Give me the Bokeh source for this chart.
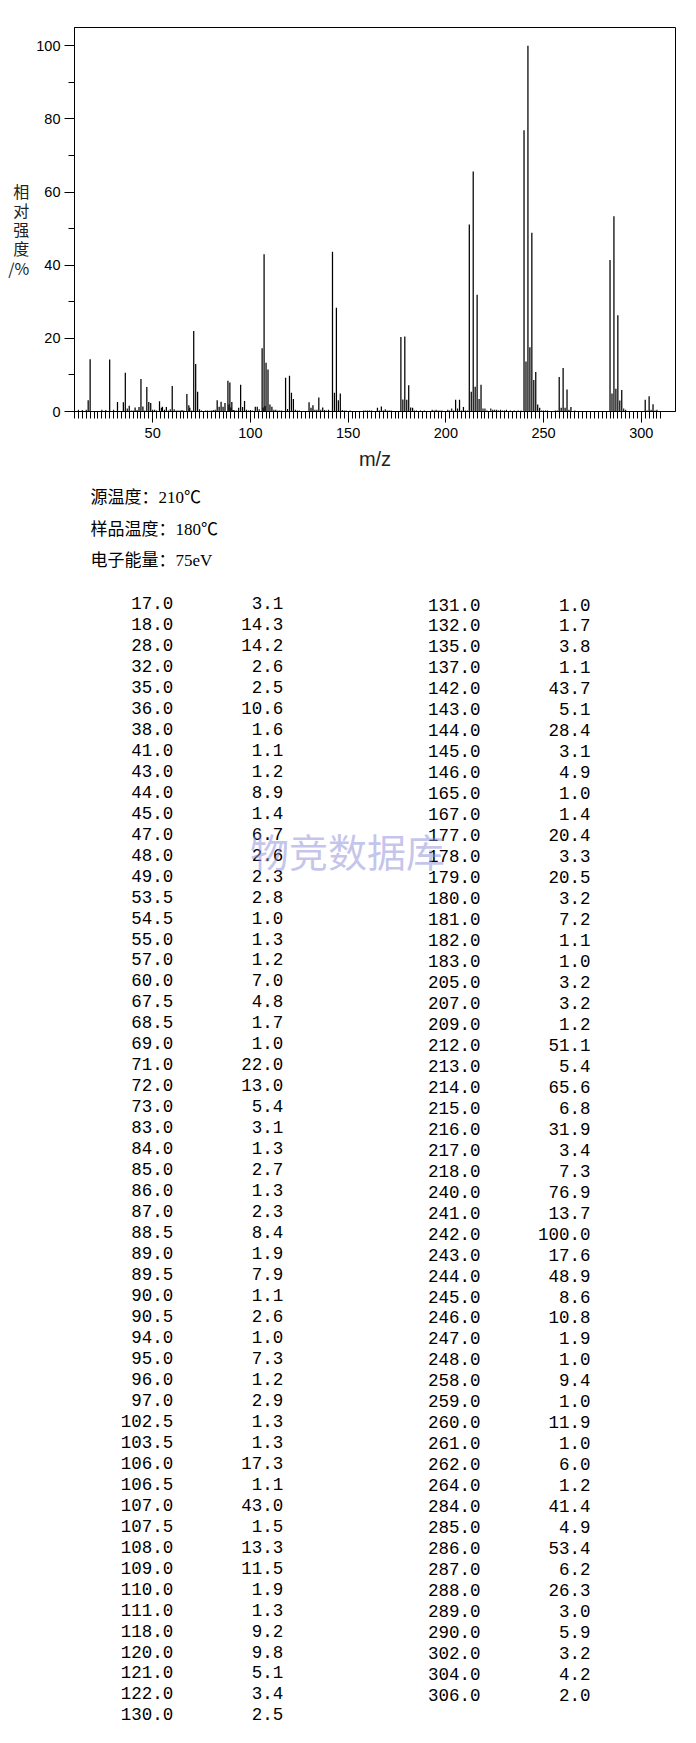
from bokeh.plotting import figure
from bokeh.models import Range1d, FixedTicker, ColumnDataSource
from bokeh.layouts import column
from bokeh.embed import file_html
from bokeh.resources import INLINE
from bokeh.core.properties import value

# ---------------- data ----------------
# listed peaks (m/z, relative intensity %)
mz_listed = [17.0, 18.0, 28.0, 32.0, 35.0, 36.0, 38.0, 41.0, 43.0, 44.0, 45.0, 47.0,
             48.0, 49.0, 53.5, 54.5, 55.0, 57.0, 60.0, 67.5, 68.5, 69.0, 71.0, 72.0,
             73.0, 83.0, 84.0, 85.0, 86.0, 87.0, 88.5, 89.0, 89.5, 90.0, 90.5, 94.0,
             95.0, 96.0, 97.0, 102.5, 103.5, 106.0, 106.5, 107.0, 107.5, 108.0, 109.0,
             110.0, 111.0, 118.0, 120.0, 121.0, 122.0, 130.0,
             131.0, 132.0, 135.0, 137.0, 142.0, 143.0, 144.0, 145.0, 146.0, 165.0,
             167.0, 177.0, 178.0, 179.0, 180.0, 181.0, 182.0, 183.0, 205.0, 207.0,
             209.0, 212.0, 213.0, 214.0, 215.0, 216.0, 217.0, 218.0, 240.0, 241.0,
             242.0, 243.0, 244.0, 245.0, 246.0, 247.0, 248.0, 258.0, 259.0, 260.0,
             261.0, 262.0, 264.0, 284.0, 285.0, 286.0, 287.0, 288.0, 289.0, 290.0,
             302.0, 304.0, 306.0]
int_listed = [3.1, 14.3, 14.2, 2.6, 2.5, 10.6, 1.6, 1.1, 1.2, 8.9, 1.4, 6.7,
              2.6, 2.3, 2.8, 1.0, 1.3, 1.2, 7.0, 4.8, 1.7, 1.0, 22.0, 13.0,
              5.4, 3.1, 1.3, 2.7, 1.3, 2.3, 8.4, 1.9, 7.9, 1.1, 2.6, 1.0,
              7.3, 1.2, 2.9, 1.3, 1.3, 17.3, 1.1, 43.0, 1.5, 13.3, 11.5,
              1.9, 1.3, 9.2, 9.8, 5.1, 3.4, 2.5,
              1.0, 1.7, 3.8, 1.1, 43.7, 5.1, 28.4, 3.1, 4.9, 1.0,
              1.4, 20.4, 3.3, 20.5, 3.2, 7.2, 1.1, 1.0, 3.2, 3.2,
              1.2, 51.1, 5.4, 65.6, 6.8, 31.9, 3.4, 7.3, 76.9, 13.7,
              100.0, 17.6, 48.9, 8.6, 10.8, 1.9, 1.0, 9.4, 1.0, 11.9,
              1.0, 6.0, 1.2, 41.4, 4.9, 53.4, 6.2, 26.3, 3.0, 5.9,
              3.2, 4.2, 2.0]

# small unlisted peaks (< 1 %)
mz_small = [12, 14, 16, 24, 26, 30, 37, 39, 40, 42, 46, 50, 51, 52, 56, 58, 59, 61,
            62, 63, 64, 65, 66, 70, 74, 75, 77, 78, 79, 80, 81, 82, 91, 91.5, 92, 93,
            98, 99, 100, 101, 104.5, 112, 113, 114, 115, 116, 119, 123, 124, 125,
            133, 134, 136, 138, 139, 140, 147, 148, 149, 151, 158, 159, 160, 161,
            162, 166, 168, 169, 170, 171, 172, 184, 185, 187, 189, 193, 194, 195,
            196, 197, 198, 201, 202, 203, 204, 206, 208, 210, 211, 219, 220, 221,
            223, 224, 225, 226, 227, 228, 229, 230, 231, 233, 235, 237, 238.5, 249,
            250, 251, 252, 256, 257, 263, 266, 291, 292, 303, 305, 307, 308]
int_small = [0.5, 0.4, 0.5, 0.5, 0.4, 0.5, 0.8, 0.3, 0.3, 0.4, 0.3, 0.5, 0.5, 0.3, 0.5, 0.3, 0.6, 0.6,
             0.3, 0.3, 0.3, 0.4, 0.3, 0.3, 0.6, 0.3, 0.3, 0.3, 0.2, 0.3, 0.4, 0.5, 0.4, 0.4, 0.3, 0.3,
             0.5, 0.3, 0.4, 0.3, 0.6, 0.5, 0.5, 0.3, 0.3, 0.3, 0.7, 0.5, 0.3, 0.3,
             0.5, 0.5, 0.5, 0.4, 0.3, 0.5, 0.4, 0.3, 0.3, 0.3, 0.3, 0.3, 0.3, 0.3,
             0.3, 0.3, 0.3, 0.6, 0.3, 0.3, 0.3, 0.3, 0.3, 0.3, 0.3, 0.5, 0.3, 0.5,
             0.3, 0.3, 0.3, 0.5, 0.3, 0.8, 0.3, 0.8, 0.3, 0.3, 0.3, 0.8, 0.8, 0.3,
             0.8, 0.5, 0.5, 0.5, 0.3, 0.5, 0.3, 0.3, 0.5, 0.3, 0.3, 0.3, 0.3, 0.3,
             0.3, 0.3, 0.3, 0.3, 0.3, 0.5, 0.3, 0.8, 0.5, 0.3, 0.5, 0.3, 0.5]

x_major_ticks = [50, 100, 150, 200, 250, 300]
x_minor_ticks = list(range(10, 311, 2))
y_major_ticks = [0, 20, 40, 60, 80, 100]
y_minor_ticks = [10, 30, 50, 70, 90]

y_label = "\n相\n对\n强\n度\n/%"
x_label = "m/z"
info_lines = ["源温度：210℃", "样品温度：180℃", "电子能量：75eV"]
watermark = "物竞数据库"
rows_left = 54

# ---------------- layout constants (page pixels) ----------------
W = 690
FRAME_L, FRAME_R, FRAME_T, FRAME_B = 74, 675, 27, 411
H1 = 478

# ---------------- spectrum ----------------
p = figure(width=W, height=H1, x_range=Range1d(10, 317.5), y_range=Range1d(0, 105),
           output_backend="svg", toolbar_location=None, title=None,
           min_border_left=FRAME_L, min_border_right=W - FRAME_R,
           min_border_top=FRAME_T, min_border_bottom=H1 - FRAME_B)
p.grid.visible = False
p.outline_line_color = "black"
p.outline_line_width = 1
p.outline_line_alpha = 1
p.background_fill_color = "white"
p.border_fill_color = "white"

src_l = ColumnDataSource(dict(mz=mz_listed, y=int_listed))
src_s = ColumnDataSource(dict(mz=mz_small, y=int_small))
p.segment(x0="mz", y0=0, x1="mz", y1="y", source=src_s, line_color="black", line_width=1.1)
p.segment(x0="mz", y0=0, x1="mz", y1="y", source=src_l, line_color="black", line_width=1.25)

ax = p.xaxis[0]
ax.ticker = FixedTicker(ticks=x_major_ticks, minor_ticks=x_minor_ticks)
ax.major_tick_in = 0
ax.major_tick_out = 11
ax.minor_tick_in = 0
ax.minor_tick_out = 7
ax.major_label_standoff = 5
ax.major_label_text_font = "Liberation Sans"
ax.major_label_text_font_size = "14.5px"
ax.major_label_text_color = "black"
ax.axis_line_color = "black"
ax.major_tick_line_color = "black"
ax.minor_tick_line_color = "black"
ax.axis_label = x_label
ax.axis_label_text_font = "Liberation Sans"
ax.axis_label_text_font_style = "normal"
ax.axis_label_text_font_size = "20px"
ax.axis_label_text_color = "#222222"
ax.axis_label_standoff = 7

ay = p.yaxis[0]
ay.ticker = FixedTicker(ticks=y_major_ticks, minor_ticks=y_minor_ticks)
ay.major_tick_in = 0
ay.major_tick_out = 10
ay.minor_tick_in = 0
ay.minor_tick_out = 6
ay.major_label_standoff = 4
ay.major_label_text_font = "Liberation Sans"
ay.major_label_text_font_size = "14.5px"
ay.major_label_text_color = "black"
ay.axis_line_color = "black"
ay.major_tick_line_color = "black"
ay.minor_tick_line_color = "black"
ay.axis_label = y_label
ay.axis_label_orientation = "horizontal"
ay.axis_label_text_font = "Noto Sans CJK SC"
ay.axis_label_text_font_style = "normal"
ay.axis_label_text_font_size = "16px"
ay.axis_label_text_line_height = 0.8
ay.axis_label_text_color = "#222222"
ay.axis_label_standoff = 4

# ---------------- info + table ----------------
H2 = 1262
t = figure(width=W, height=H2, x_range=Range1d(FRAME_L, FRAME_R), y_range=Range1d(H1 + H2, H1),
           output_backend="svg", toolbar_location=None, title=None,
           x_axis_type=None, y_axis_type=None,
           min_border_left=FRAME_L, min_border_right=W - FRAME_R,
           min_border_top=0, min_border_bottom=0)
t.grid.visible = False
t.outline_line_color = None
t.background_fill_color = "white"
t.border_fill_color = "white"

info_y = [497, 529, 560]
t.text(x=[90] * len(info_lines), y=info_y, text=info_lines, text_align="left",
       text_baseline="middle", text_font=value("Liberation Serif, Noto Sans CJK SC"),
       text_font_size=value("17px"), text_color="black")

row_h = 20.97
mz_txt = [f"{v:.1f}" for v in mz_listed]
in_txt = [f"{v:.1f}" for v in int_listed]
n = len(mz_listed)
ys = [602.5 + row_h * i for i in range(rows_left)] + [604 + row_h * i for i in range(n - rows_left)]
xm = [172.7] * rows_left + [480] * (n - rows_left)
xv = [282.7] * rows_left + [590] * (n - rows_left)
mono = value("Liberation Mono")
t.text(x=xm, y=ys, text=mz_txt, text_align="right", text_baseline="middle",
       text_font=mono, text_font_size=value("17.5px"), text_color="black")
t.text(x=xv, y=ys, text=in_txt, text_align="right", text_baseline="middle",
       text_font=mono, text_font_size=value("17.5px"), text_color="black")

t.text(x=[347], y=[849], text=[watermark], text_align="center", text_baseline="middle",
       text_font=value("Noto Sans CJK SC"), text_font_size=value("39px"),
       text_color="#8c8cd9", text_alpha=0.5)

layout = column(p, t, spacing=0)
open("out.html", "w").write(file_html(layout, INLINE))
